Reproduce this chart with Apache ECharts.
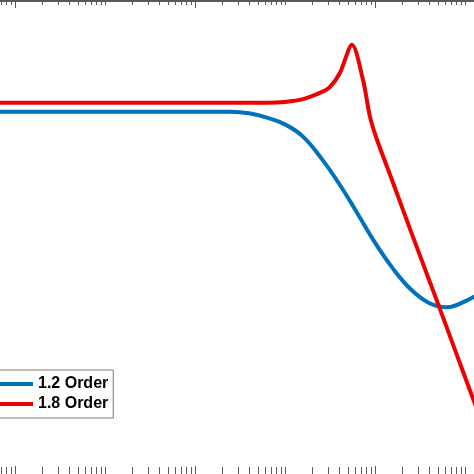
<!DOCTYPE html>
<html>
<head>
<meta charset="utf-8">
<style>html,body{margin:0;padding:0;background:#fff}#c{width:474px;height:474px}</style>
<script src="https://cdn.jsdelivr.net/npm/echarts@6/dist/echarts.min.js"></script>
</head>
<body>
<div id="c"></div>
<script>
// Frequency (Hz), log axis
const freqBlue = [0.5, 100, 251, 398, 631, 1000, 1585, 2512, 3981, 6310, 10000, 15849, 25119, 39811, 63096, 100000, 158489];
const order12 = [-8.1, -8.1, -8.1, -8.5, -9.6, -11.3, -14.4, -19.8, -26.3, -33.7, -41.3, -47.9, -53.2, -56.6, -57.7, -56.2, -53.7];
const freqRed = [0.5, 251, 631, 1000, 1585, 2512, 3162, 4084, 5550, 7356, 8799, 10525, 15849, 25119, 39811, 63096, 100000, 158489];
const order18 = [-5.8, -5.8, -5.8, -5.6, -4.9, -3.2, -1.8, 1.8, 8.9, 0.0, -9.4, -15.2, -26.1, -38.5, -50.7, -63.0, -75.4, -87.7];
const seriesNames = ['1.2 Order', '1.8 Order'];
const xMin = 0.6813, xMax = 125893;
const majorDecades = [1, 100, 10000];
const allDecades = [0.1, 1, 10, 100, 1000, 10000, 100000];

const minorTicks = [];
allDecades.forEach(d => {
  if (majorDecades.indexOf(d) < 0 && d >= xMin) minorTicks.push(d);
  for (let k = 2; k <= 9; k++) {
    const v = +(k * d).toPrecision(6);
    if (v >= xMin && v <= xMax) minorTicks.push(v);
  }
});

const axisColor = '#5a5a5a';
function xAx(pos, ticks, len, showLine) {
  return {
    type: 'log', logBase: 10, min: xMin, max: xMax, position: pos,
    axisLine: { show: showLine, onZero: false, lineStyle: { color: axisColor, width: 2 } },
    axisTick: { show: true, inside: true, length: len, customValues: ticks, lineStyle: { color: axisColor, width: 1 } },
    axisLabel: { show: false },
    splitLine: { show: false },
    minorTick: { show: false }
  };
}

const chart = echarts.init(document.getElementById('c'), null, { renderer: 'canvas' });
chart.setOption({
  animation: false,
  backgroundColor: '#fff',
  grid: { left: 0, right: 0, top: 1, bottom: 0, containLabel: false },
  xAxis: [
    xAx('bottom', minorTicks, 7, false),
    xAx('bottom', majorDecades, 8, false),
    xAx('top', minorTicks, 4, true),
    xAx('top', majorDecades, 7, false)
  ],
  yAxis: { type: 'value', min: -100, max: 20, show: false },
  legend: {
    orient: 'vertical', left: -32, top: 370, padding: [5, 5, 5, 5],
    itemWidth: 60, itemHeight: 4, itemGap: 2,
    icon: 'rect',
    borderColor: '#7a7a7a', borderWidth: 1, backgroundColor: '#fff',
    textStyle: { fontFamily: 'Liberation Sans, Arial', fontWeight: 'bold', fontSize: 16, color: '#000', lineHeight: 18 },
    data: seriesNames
  },
  series: [
    { name: seriesNames[0], type: 'line', xAxisIndex: 0, data: freqBlue.map((f, i) => [f, order12[i]]),
      smooth: 0.4, showSymbol: false, symbol: 'none', lineStyle: { color: '#0072bd', width: 4 }, itemStyle: { color: '#0072bd' } },
    { name: seriesNames[1], type: 'line', xAxisIndex: 0, data: freqRed.map((f, i) => [f, order18[i]]),
      smooth: 0.3, showSymbol: false, symbol: 'none', lineStyle: { color: '#ee0000', width: 4 }, itemStyle: { color: '#ee0000' } }
  ]
});
</script>
</body>
</html>
